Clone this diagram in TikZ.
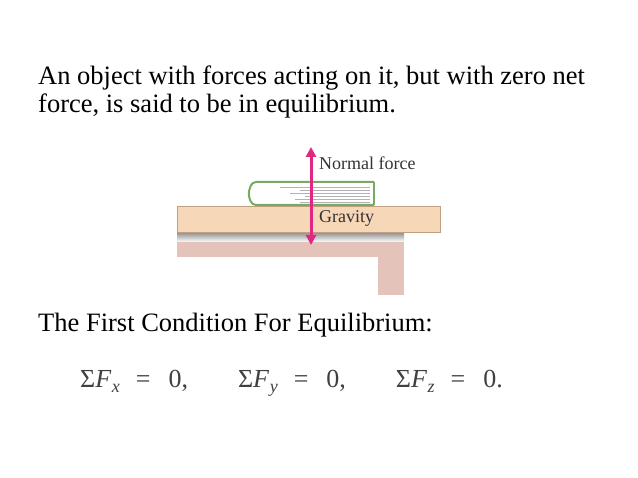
\documentclass[tikz,border=0pt]{standalone}
\usepackage{fontspec}
\setmainfont{Liberation Serif}
\usetikzlibrary{arrows.meta}
\definecolor{wood}{RGB}{246,216,184}
\definecolor{woodedge}{RGB}{190,160,130}
\definecolor{leg}{RGB}{228,196,186}
\definecolor{shade}{RGB}{170,160,160}
\definecolor{bookg}{RGB}{120,170,100}
\definecolor{force}{RGB}{224,40,130}
\newcommand{\sumF}[1]{Σ\textit{F}\kern0.5pt\raisebox{-0.35ex}{\fontsize{18}{18}\selectfont\textit{#1}}}
\tikzset{txt/.style={anchor=base west,inner sep=0pt,font=\fontsize{26.5}{28}\selectfont},
lbl/.style={anchor=west,inner sep=1pt,font=\fontsize{18}{20}\selectfont,text=black!80},
arr/.style={force,line width=3pt,-{Triangle[length=10pt,width=10pt]}}}
\begin{document}
\begin{tikzpicture}[x=1pt,y=-1pt]
\useasboundingbox (0,0) rectangle (638,478);
\node[txt] (t1) at (38,85) {An object with forces acting on it, but with zero net};
\node[txt] (t2) at (38,113) {force, is said to be in equilibrium.};
% table
\fill[leg] (378,232) rectangle (404,295);
\fill[leg] (177,241) rectangle (404,257);
\fill[shade] (177,231) rectangle (404,242);
\fill[wood,draw=woodedge,line width=0.5pt] (177,206) rectangle (440,232);
% book
\draw[bookg,line width=2pt,fill=white,rounded corners=4pt] (374,182) -- (252,182) -- (248,194) -- (252,205) -- (374,205);
\draw[bookg,line width=2pt] (374,182) -- (374,205);
\foreach \yy/\xx in {187/280,190/300,193/290,196/305,199/295,202/300}
  \draw[gray!60,line width=0.5pt] (\xx,\yy) -- (370,\yy);
\coordinate (c) at (311,208);
\coordinate (up) at (311,147);
\coordinate (dn) at (311,245);
\draw[arr] (c) -- (up);
\draw[arr] (c) -- (dn);
\node[lbl] (nf) at (318,163) {Normal force};
\node[lbl] (gr) at (318,218) {Gravity};
\node[txt] (t3) at (38,332) {The First Condition For Equilibrium:};
\node[txt,font=\fontsize{26}{28}\selectfont\color{black!75}] (eq) at (80,388) {\sumF{x}\hspace{16pt}=\hspace{18pt}0,\hspace{50pt}\sumF{y}\hspace{16pt}=\hspace{18pt}0,\hspace{50pt}\sumF{z}\hspace{16pt}=\hspace{18pt}0.};
\end{tikzpicture}
\end{document}
